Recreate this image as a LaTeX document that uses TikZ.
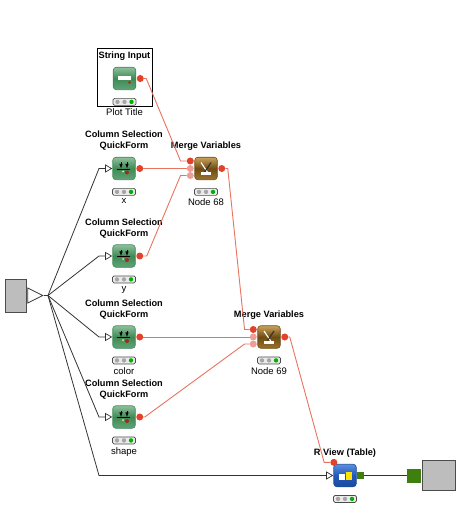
\documentclass[tikz,border=0pt]{standalone}
\usepackage{fontspec}
\setmainfont{Liberation Sans}
\usetikzlibrary{positioning, shapes.geometric, calc}

\definecolor{portred}{HTML}{E2412A}
\definecolor{portpink}{HTML}{EC9F96}
\definecolor{wirered}{HTML}{E8735F}
\definecolor{wireblack}{HTML}{333333}
\definecolor{boxgray}{HTML}{BDBDBD}
\definecolor{tablegreen}{HTML}{3F7F10}
\definecolor{greentop}{HTML}{8FC09C}
\definecolor{greenmid}{HTML}{3E8A55}
\definecolor{greenlow}{HTML}{62A377}
\definecolor{browntop}{HTML}{C9A35C}
\definecolor{brownmid}{HTML}{6E4B12}
\definecolor{brownlow}{HTML}{9A7330}
\definecolor{bluetop}{HTML}{5A8FE0}
\definecolor{bluemid}{HTML}{2358B8}
\definecolor{bluelow}{HTML}{1C4A9E}

\begin{document}
\begin{tikzpicture}[
  x=1pt, y=-1pt,
  icon/.style={rectangle, rounded corners=3pt, draw=#1, line width=0.6pt, minimum size=22.5pt, inner sep=0pt},
  greenicon/.style={icon=greenmid, top color=greentop, bottom color=greenlow, middle color=greenmid},
  brownicon/.style={icon=brownmid, top color=browntop, bottom color=brownlow, middle color=brownmid},
  blueicon/.style={icon=bluelow, top color=bluetop, bottom color=bluelow, middle color=bluemid},
  statusbox/.style={rectangle, rounded corners=1.5pt, draw=black!70, fill=black!8, line width=0.7pt, minimum width=23pt, minimum height=7pt, inner sep=0pt},
  outport/.style={circle, fill=portred, minimum size=7pt, inner sep=0pt},
  inport/.style={circle, fill=#1, minimum size=7pt, inner sep=0pt},
  flowport/.style={isosceles triangle, isosceles triangle stretches, draw=black!80, fill=white, line width=0.7pt, inner sep=0pt, minimum width=7pt, minimum height=6pt},
  tableport/.style={rectangle, fill=tablegreen, inner sep=0pt, minimum size=#1},
  metanode/.style={rectangle, draw=black!70, fill=boxgray, line width=0.8pt, inner sep=0pt},
  title/.style={font=\fontsize{9.2}{11}\selectfont\bfseries, align=center, inner sep=0pt},
  caption/.style={font=\fontsize{9.5}{11}\selectfont, inner sep=0pt},
  flow/.style={draw=wireblack, line width=0.8pt},
  data/.style={draw=wirered, line width=0.9pt}
]
\useasboundingbox (0,0) rectangle (474,521);

% --- status lights ---
\newcommand{\lights}[1]{
  \foreach \dx/\lamp in {-7/black!35,0/black!35,7/green!70!black}
    \fill[\lamp] ($(#1.center)+(\dx,0)$) circle (2.2pt);
}

% --- meta nodes ---
\node[metanode, minimum width=21pt, minimum height=33pt] (metain) at (15.5,295.5) {};
\node[flowport, minimum width=15pt, minimum height=15pt, right=1pt of metain] (metaport) {};
\coordinate (hub) at (48,295.5);
\coordinate (bend) at (99,0);
\draw[flow] (metaport.east) -- (hub);

\node[metanode, minimum width=33pt, minimum height=30pt] (metaout) at (438.5,475.5) {};
\node[tableport=14pt, left=0pt of metaout] (metaoutport) {};

% --- string input ---
\node[rectangle, draw=black, line width=0.8pt, minimum width=55pt, minimum height=58pt] (frame) at (124.5,77) {};
\node[greenicon] (stringin) at (124.5,78.5) {};
\node[title, above=6pt of stringin] (stringtitle) {String Input};
\node[outport, right=0.5pt of stringin] (stringout) {};
\node[statusbox, below=8pt of stringin] (stringstatus) {};
\node[caption, below=3pt of stringstatus] (stringcaption) {Plot Title};
\lights{stringstatus}
\fill[white] ($(stringin.center)+(-7,-2)$) rectangle ++(13,3.5);
\fill[portred!70!black] ($(stringin.center)+(5,4)$) circle (1.3pt);

% --- column selection ---
\foreach \nd/\txt/\ypos in {x/x/168.5, y/y/256, color/color/337, shape/shape/417} {
  \node[greenicon] (sel\nd) at (124,\ypos) {};
  \node[title, above=6pt of sel\nd] (title\nd) {Column Selection\\QuickForm};
  \node[outport, right=0.5pt of sel\nd] (out\nd) {};
  \node[flowport, left=0pt of sel\nd] (flow\nd) {};
  \node[statusbox, below=8pt of sel\nd] (status\nd) {};
  \node[caption, below=3pt of status\nd] (caption\nd) {\txt};
  \lights{status\nd}
  \draw[black, line width=0.6pt, -latex] ($(sel\nd.center)+(-3,-6)$) -- ++(0,6);
  \draw[black, line width=0.6pt, -latex] ($(sel\nd.center)+(3,-6)$) -- ++(0,6);
  \draw[black, line width=0.5pt] ($(sel\nd.center)+(-7,0.5)$) -- ++(13,0);
  \fill[portred!70!black] ($(sel\nd.center)+(3,4)$) circle (2pt);
  \fill[yellow!70!white] ($(sel\nd.center)+(-1,3)$) circle (1pt);
  \draw[flow] (hub) -- (bend |- flow\nd.west) -- (flow\nd.west);
}

% --- merge variables ---
\foreach \nd/\txt/\xpos/\ypos in {a/Node 68/206/168.5, b/Node 69/269/337} {
  \node[brownicon] (merge\nd) at (\xpos,\ypos) {};
  \node[title, above=6pt of merge\nd] (mergetitle\nd) {Merge Variables};
  \node[outport, right=0.5pt of merge\nd] (mergeout\nd) {};
  \node[inport=portred, left=0.5pt of merge\nd, yshift=7.5pt] (mergeone\nd) {};
  \node[inport=portpink, left=0.5pt of merge\nd] (mergetwo\nd) {};
  \node[inport=portpink, left=0.5pt of merge\nd, yshift=-7pt] (mergethree\nd) {};
  \node[statusbox, below=8pt of merge\nd] (mergestatus\nd) {};
  \node[caption, below=3pt of mergestatus\nd] (mergecaption\nd) {\txt};
  \lights{mergestatus\nd}
  \draw[white, line width=1.2pt] ($(merge\nd.center)+(-5,-6)$) -- ($(merge\nd.center)+(3,6)$);
  \draw[black!80, line width=1.2pt] ($(merge\nd.center)+(5,-6)$) -- ($(merge\nd.center)+(-3,6)$);
  \fill[white] ($(merge\nd.center)+(-5,4)$) rectangle ++(10,3);
}

% --- r view ---
\node[blueicon] (rview) at (345,475.5) {};
\node[title, above=6pt of rview] (rtitle) {R View (Table)};
\node[inport=portred, above left=-1pt and -3pt of rview] (rin) {};
\node[flowport, left=0pt of rview] (rflow) {};
\node[tableport=7pt, right=0pt of rview] (rout) {};
\node[statusbox, below=8pt of rview] (rstatus) {};
\lights{rstatus}
\fill[yellow!85!orange] ($(rview.center)+(1,-4)$) rectangle ++(6,8);
\fill[white] ($(rview.center)+(-6,-2)$) rectangle ++(6,6);

% --- flow variable lines ---
\draw[flow] (hub) -- (bend |- rflow.west) -- (rflow.west);
\draw[flow] (rout) -- (metaoutport);

% --- data lines ---
\draw[data] (stringout) -- ++(6,0) -- ([xshift=-6pt]mergeonea.west) -- (mergeonea);
\draw[data] (outx) -- (mergetwoa);
\draw[data] (outy) -- ++(7,0) -- ([xshift=-6pt]mergethreea.west) -- (mergethreea);
\draw[data] (mergeouta) -- ++(6,0) -- ([xshift=-5pt]mergeoneb.west) -- (mergeoneb);
\draw[data] (outcolor) -- (mergetwob);
\draw[data] (outshape) -- ++(5,0) -- ([xshift=-5pt]mergethreeb.west) -- (mergethreeb);
\draw[data] (mergeoutb) -- ++(5,0) -- ([xshift=-6pt]rin.west) -- (rin);

\end{tikzpicture}
\end{document}
